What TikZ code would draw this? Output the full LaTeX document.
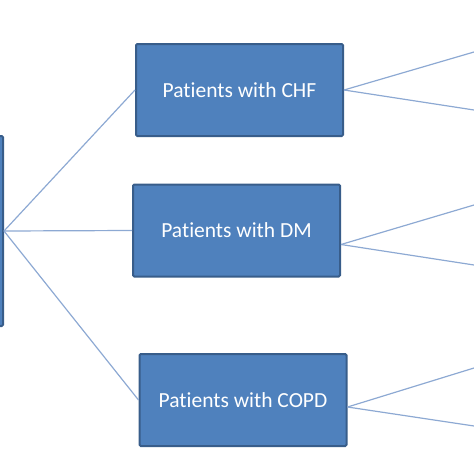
\documentclass[tikz,border=0pt]{standalone}
\usepackage{fontspec}
\setmainfont[Ligatures=NoCommon]{Carlito}
\definecolor{boxfill}{HTML}{4F81BD}
\definecolor{boxdraw}{HTML}{385D8A}
\definecolor{linkc}{HTML}{8DA9D3}
\begin{document}
\begin{tikzpicture}[x=1pt,y=-1pt,
  box/.style={draw=boxdraw,fill=boxfill,line width=2pt,rounded corners=1.2pt,
    minimum width=207pt,minimum height=92pt,inner sep=0pt,text=white,
    font=\fontsize{21.5}{24}\selectfont},
  link/.style={draw=linkc,line width=1.2pt}]
\useasboundingbox (0,0) rectangle (474,474);
\begin{scope}
\clip (0,0) rectangle (474,474);
\node[box,minimum width=40pt,minimum height=190pt,anchor=east] (root) at (4,231) {};
\node[box] (chf) at (239.5,90) {Patients with CHF};
\node[box] (dm) at (236.5,230.5) {Patients with DM};
\node[box] (copd) at (243,400) {Patients with COPD};
\coordinate (c1) at (474,52);
\coordinate (c2) at (474,110);
\coordinate (d1) at (474,205);
\coordinate (d2) at (474,265);
\coordinate (p1) at (474,368);
\coordinate (p2) at (474,426);
\draw[link] (root.east) -- (chf.west);
\draw[link] (root.east) -- (dm.west);
\draw[link] (root.east) -- (copd.west);
\draw[link] (chf.east) -- (c1);
\draw[link] (chf.east) -- (c2);
\draw[link] ([yshift=-14pt]dm.east) -- (d1);
\draw[link] ([yshift=-14pt]dm.east) -- (d2);
\draw[link] ([yshift=-7pt]copd.east) -- (p1);
\draw[link] ([yshift=-7pt]copd.east) -- (p2);
\end{scope}
\end{tikzpicture}
\end{document}
